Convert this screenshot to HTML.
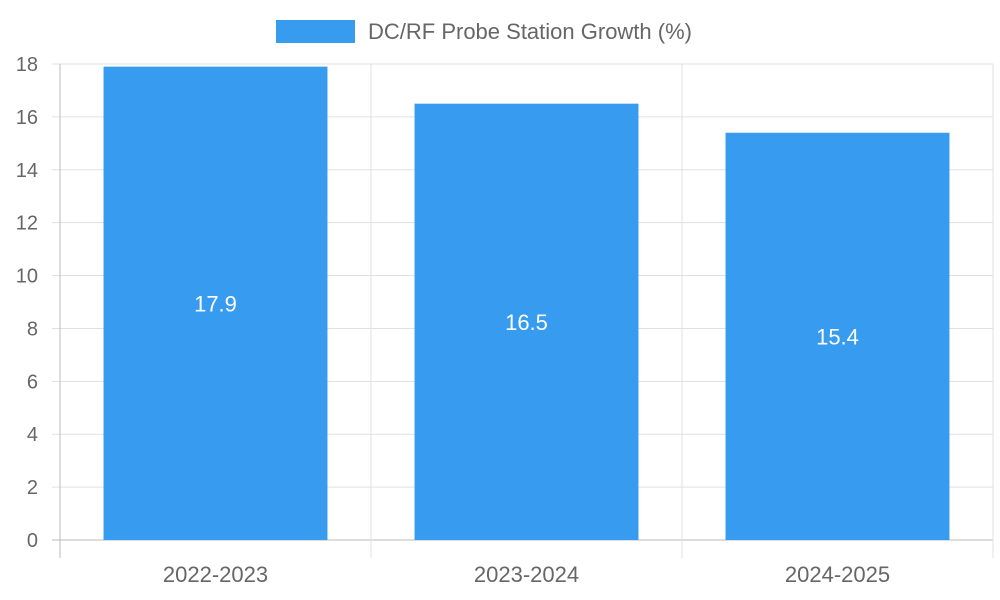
<!DOCTYPE html>
<html><head><meta charset="utf-8"><style>
html,body{margin:0;padding:0;background:#fff;}
svg{display:block;font-family:"Liberation Sans",sans-serif;}
</style></head><body>
<svg id="chart" width="1000" height="600"></svg>
<script>
const categories = ["2022-2023","2023-2024","2024-2025"];
const values = [17.9,16.5,15.4];
const yTicks = [0,2,4,6,8,10,12,14,16,18];
const seriesLabel = "DC/RF Probe Station Growth (%)";

const NS="http://www.w3.org/2000/svg";
const svg=document.getElementById('chart');
const L=60,R=993,T=64,B=540,yMax=18;
const yS=v=>B-(v/yMax)*(B-T);
const bandW=(R-L)/categories.length;
const xC=i=>L+bandW*(i+0.5);
function mk(tag,attrs,parent){const e=document.createElementNS(NS,tag);for(const k in attrs)e.setAttribute(k,attrs[k]);(parent||svg).appendChild(e);return e;}

const grid=mk('g',{});


yTicks.forEach(t=>{
  const y=yS(t);
  const ln=mk('line',{x1:52,x2:R,y1:y,y2:y,stroke:t===0?'#bbb':'#e0e0e0','stroke-width':1},grid);
  
  
  const tx=mk('text',{x:38,y:y+7,'text-anchor':'end','font-size':20,fill:'#666'});
  tx.textContent=t;
  
  
});
for(let i=0;i<=categories.length;i++){
  const x=L+bandW*i;
  const ln=mk('line',{x1:x,x2:x,y1:T,y2:558,stroke:i===0?'#bbb':'#e0e0e0','stroke-width':1},grid);
  
  
}
categories.forEach((c,i)=>{
  const bw=bandW*0.72;
  const y=yS(values[i]);
  const r=mk('rect',{x:xC(i)-bw/2,y:y,width:bw,height:B-y,fill:'#379bf0'});
  
  
  const v=mk('text',{x:xC(i),y:(y+B)/2+8,'text-anchor':'middle','font-size':22,fill:'#fff'});
  v.textContent=values[i];
  
  
  const tx=mk('text',{x:xC(i),y:582,'text-anchor':'middle','font-size':22,fill:'#666'});
  tx.textContent=c;
  
  
});
const lg=mk('g',{});


mk('rect',{x:276,y:20,width:79,height:23,fill:'#379bf0'},lg);
const lt=mk('text',{x:368,y:39,'font-size':22,fill:'#666'},lg);
lt.textContent=seriesLabel;
</script>
</body></html>
